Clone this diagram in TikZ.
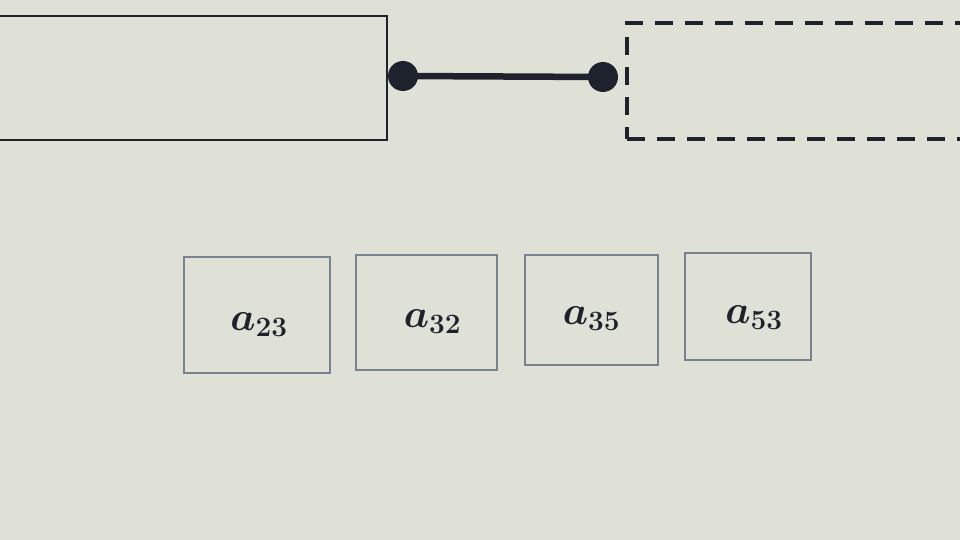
\RequirePackage{fix-cm}
\documentclass[tikz,border=0pt]{standalone}
\usetikzlibrary{positioning}
\definecolor{bgc}{RGB}{224,225,214}
\definecolor{ink}{RGB}{30,34,45}
\definecolor{cellline}{RGB}{120,130,145}
\tikzset{
  bigbox/.style={draw=ink, line width=2pt, fill=bgc, minimum width=#1, minimum height=124pt, inner sep=0pt},
  dashbox/.style={draw=ink, line width=4pt, dash pattern=on 18pt off 12pt, minimum width=400pt, minimum height=116pt, inner sep=0pt},
  cell/.style={draw=cellline, line width=1.6pt, inner sep=0pt},
  celltext/.style={inner sep=0pt, text=ink, font=\fontsize{40}{44}\selectfont\boldmath},
  link/.style={draw=ink, line width=6.5pt},
  knob/.style={fill=ink}
}
\begin{document}
\begin{tikzpicture}[x=1pt,y=-1pt]
\fill[bgc] (0,0) rectangle (960,540);
\clip (0,0) rectangle (960,540);
\useasboundingbox (0,0) rectangle (960,540);
\node[bigbox=420pt] (L) at (177,78) {};
\node[dashbox] (R) at (827,81) {};
\coordinate (p1) at (403,76);
\coordinate (p2) at (603,77);
\draw[link] (p1) -- (p2);
\fill[knob] (p1) circle (15pt);
\fill[knob] (p2) circle (15pt);
\node[cell, minimum width=146pt, minimum height=116pt] (c1) at (257,315) {};
\node[cell, minimum width=141pt, minimum height=115pt] (c2) at (426.5,312.5) {};
\node[cell, minimum width=133pt, minimum height=110pt] (c3) at (591.5,310) {};
\node[cell, minimum width=126pt, minimum height=107pt] (c4) at (748,306.5) {};
\node[celltext] (t1) at ([xshift=2pt,yshift=-10pt]c1.center) {$a_{23}$};
\node[celltext] (t2) at ([xshift=6pt,yshift=-9pt]c2.center) {$a_{32}$};
\node[celltext] (t3) at ([xshift=0pt,yshift=-9pt]c3.center) {$a_{35}$};
\node[celltext] (t4) at ([xshift=6pt,yshift=-11pt]c4.center) {$a_{53}$};
\end{tikzpicture}
\end{document}
